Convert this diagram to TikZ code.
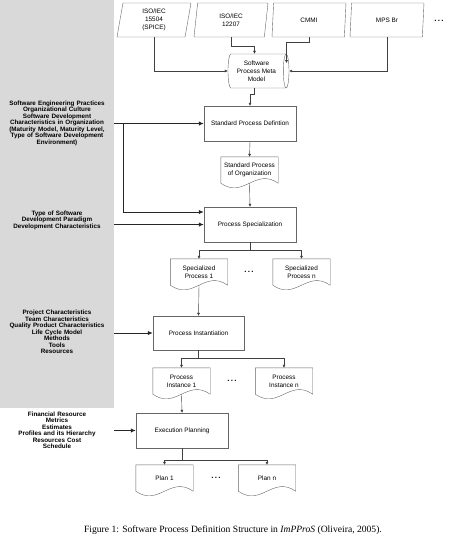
\documentclass[tikz,border=0pt]{standalone}
\usepackage{fontspec}
\setmainfont{Liberation Serif}
\setsansfont{Liberation Sans}
\usetikzlibrary{shapes.geometric,arrows.meta,calc}

\begin{document}
\begin{tikzpicture}[x=1pt,y=-1pt,
  box/.style={draw=black!60,fill=white,minimum width=92pt,minimum height=35pt,font=\fontsize{6.4}{8}\sffamily,align=center,inner sep=1pt},
  doc/.style={minimum width=57pt,minimum height=26pt,font=\fontsize{6.4}{8}\sffamily,align=center,inner sep=1pt},
  std/.style={shape=trapezium,trapezium left angle=76,trapezium right angle=104,trapezium stretches body,draw=black!60,minimum width=74pt,minimum height=34pt,font=\fontsize{6.4}{8}\sffamily,align=center,inner sep=1pt},
  factors/.style={font=\fontsize{6.3}{6.5}\sffamily\bfseries,align=center,text width=112pt},
  dots/.style={font=\fontsize{8}{8}\sffamily\bfseries},
  flow/.style={draw=black!75,line width=0.4pt,-{Latex[length=3pt,width=3pt]}},
  input/.style={draw=black!85,line width=1pt,-{Latex[length=5pt,width=4.5pt]}},
  shapeline/.style={draw=black!60,line width=0.4pt}]
  \useasboundingbox (0,0) rectangle (474,539);

  % Gray panel with the factors
  \node[fill=black!15,minimum width=114pt,minimum height=408pt,inner sep=0pt] (panel) at (57,204) {};

  % Standards
  \node[std] (iso1) at (154,20) {ISO/IEC\\15504\\(SPICE)};
  \node[std] (iso2) at (231,20) {ISO/IEC\\12207};
  \node[std] (cmmi) at (309,20) {CMMI};
  \node[std] (mps) at (387,20) {MPS Br};
  \node[dots] (dots0) at (439,21) {.\,.\,.};

  % Meta model
  \node[shape=cylinder,aspect=0.25,draw=black!60,minimum width=34pt,minimum height=61pt,font=\fontsize{6.4}{8}\sffamily,align=center,inner sep=1pt] (meta) at (256.5,71) {Software\\Process Meta\\Model};

  % Boxes and documents
  \node[box] (spd) at (250,123.5) {Standard Process Defintion};
  \node[doc] (spo) at (249.5,170) {Standard Process\\of Organization};
  \node[box] (spec) at (250,224.5) {Process Specialization};
  \node[doc] (sp1) at (199,272) {Specialized\\Process 1};
  \node[doc] (spn) at (301.5,272) {Specialized\\Process n};
  \node[dots] (dots1) at (249,272) {.\,.\,.};
  \node[box,minimum width=91pt,minimum height=34pt] (inst) at (198.5,333) {Process Instantiation};
  \node[doc] (pi1) at (181.5,381) {Process\\Instance 1};
  \node[doc] (pin) at (284,381) {Process\\Instance n};
  \node[dots] (dots2) at (232,381) {.\,.\,.};
  \node[box] (exec) at (182,430.5) {Execution Planning};
  \node[doc] (plan1) at (164.5,478) {Plan 1};
  \node[doc] (plann) at (267,478) {Plan n};
  \node[dots] (dots3) at (216,478) {.\,.\,.};

  % Document outlines with wavy bottom
  \foreach \d in {spo,sp1,spn,pi1,pin,plan1,plann}
    \draw[shapeline] (\d.south west) -- (\d.north west) -- (\d.north east) -- (\d.south east)
      .. controls ($(\d.south west)!0.6!(\d.south east)+(0,-16)$) and ($(\d.south west)!0.4!(\d.south east)+(0,16)$) .. (\d.south west);

  % Factors
  \node[factors] (f1) at (57,123) {Software Engineering Practices\\Organizational Culture\\Software Development\\Characteristics in Organization\\(Maturity Model, Maturity Level,\\Type of Software Development\\Environment)};
  \node[factors] (f2) at (57,220) {Type of Software\\Development Paradigm\\Development Characteristics};
  \node[factors] (f3) at (57,332) {Project Characteristics\\Team Characteristics\\Quality Product Characteristics\\Life Cycle Model\\Methods\\Tools\\Resources};
  \node[factors] (f4) at (57,430) {Financial Resource\\Metrics\\Estimates\\Profiles and its Hierarchy\\Resources Cost\\Schedule};

  % Standards into the meta model
  \draw[flow] (iso1.south) |- (meta.west);
  \draw[flow] (iso2.south) -- ++(0,9) -| ([xshift=-2pt]meta.north);
  \draw[flow] (cmmi.south) -- ++(0,5) -| ([xshift=30pt,yshift=8pt]meta.center);
  \draw[flow] (mps.south) |- (meta.east);

  % Main flow
  \draw[flow] ([xshift=-2pt]meta.south) -- ++(0,6) -| (spd.north);
  \draw[flow] (spd.south) -- (spo.north);
  \draw[flow] (spo.south) -- (spec.north);
  \draw[flow] (spec.south) -- ++(0,8) -| (sp1.north);
  \draw[flow] (spec.south) -- ++(0,8) -| (spn.north);
  \draw[flow] (sp1.south) -- (inst.north);
  \draw[flow] (inst.south) -- ++(0,8) -| (pi1.north);
  \draw[flow] (inst.south) -- ++(0,8) -| (pin.north);
  \draw[flow] (pi1.south) -- (exec.north);
  \draw[flow] (exec.south) -- ++(0,12) -| (plan1.north);
  \draw[flow] (exec.south) -- ++(0,12) -| (plann.north);

  % Inputs from the factors
  \draw[input] (panel.east |- spd.west) -- (spd.west);
  \draw[input] ([xshift=9pt]panel.east |- spd.west) |- ([yshift=12.5pt]spec.west);
  \draw[input] (panel.east |- spec.west) -- (spec.west);
  \draw[input] (panel.east |- inst.west) -- (inst.west);
  \draw[input] (panel.east |- exec.west) -- (exec.west);

  % Caption
  \node[font=\fontsize{9.6}{12}\selectfont,inner sep=0pt] (caption) at (233,530) {Figure 1: Software Process Definition Structure in \textit{ImPProS} (Oliveira, 2005).};
\end{tikzpicture}
\end{document}
